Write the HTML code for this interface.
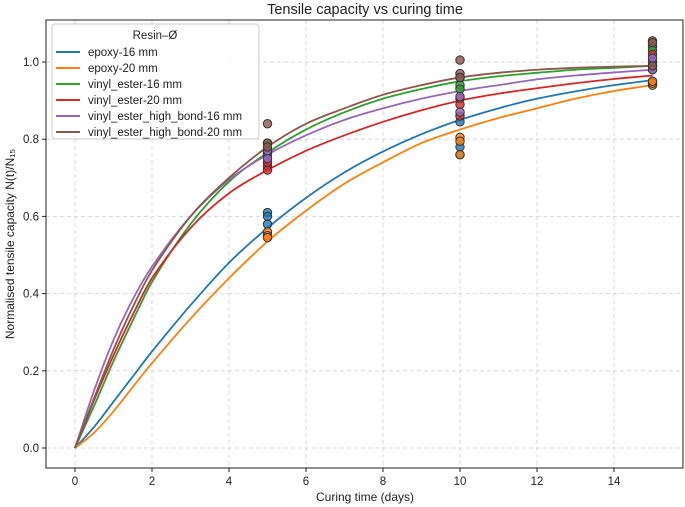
<!DOCTYPE html>
<html><head><meta charset="utf-8">
<style>
html,body{margin:0;padding:0;background:#fff;}
svg{display:block;font-family:"Liberation Sans","DejaVu Sans",sans-serif;}
</style></head>
<body>
<svg id="chart" width="685" height="507" viewBox="0 0 685 507">
<text x="365" y="14" text-anchor="middle" font-size="14.5" fill="#222">Tensile capacity vs curing time</text>
<g id="grid"></g>
<g id="axes"></g>
<g id="series"></g>
<g id="points"></g>
<text x="365" y="501" text-anchor="middle" font-size="12" fill="#222">Curing time (days)</text>
<text transform="translate(14,244) rotate(-90)" text-anchor="middle" font-size="12" fill="#222">Normalised tensile capacity N(t)/N₁₅</text>
<g id="legend"></g>
</svg>
<script>
const xTicks=[0,2,4,6,8,10,12,14];
const yTicks=[0.0,0.2,0.4,0.6,0.8,1.0];
const yTickLabels=["0.0","0.2","0.4","0.6","0.8","1.0"];
const seriesNames=["epoxy-16 mm","epoxy-20 mm","vinyl_ester-16 mm","vinyl_ester-20 mm","vinyl_ester_high_bond-16 mm","vinyl_ester_high_bond-20 mm"];
const curveDays=[0,0.5,1,1.5,2,3,4,5,6,7,8,9,10,11,12,13,14,15];
const epoxy16=[0,0.055,0.12,0.185,0.25,0.37,0.48,0.57,0.648,0.714,0.768,0.813,0.85,0.88,0.905,0.924,0.94,0.953];
const epoxy20=[0,0.04,0.095,0.158,0.22,0.335,0.44,0.535,0.615,0.685,0.74,0.79,0.825,0.855,0.88,0.905,0.925,0.94];
const ve16=[0,0.11,0.225,0.33,0.43,0.58,0.69,0.765,0.825,0.87,0.905,0.93,0.95,0.963,0.972,0.98,0.985,0.99];
const ve20=[0,0.125,0.24,0.345,0.44,0.57,0.66,0.72,0.77,0.81,0.845,0.875,0.9,0.918,0.932,0.945,0.956,0.965];
const vehb16=[0,0.15,0.28,0.385,0.47,0.6,0.695,0.76,0.81,0.85,0.88,0.905,0.925,0.94,0.955,0.965,0.973,0.98];
const vehb20=[0,0.13,0.255,0.365,0.46,0.6,0.7,0.78,0.84,0.88,0.915,0.94,0.96,0.972,0.98,0.985,0.988,0.99];
const pointDays=[5,10,15];
const pts_epoxy16=[[0.61,0.60,0.58],[0.845,0.78,0.76],[0.98,0.95,0.945]];
const pts_epoxy20=[[0.56,0.55,0.545],[0.805,0.795,0.76],[0.94,0.945,0.95]];
const pts_ve16=[[0.79,0.77,0.765],[0.94,0.93,0.96],[1.04,1.03,0.99]];
const pts_ve20=[[0.73,0.72,0.74],[0.905,0.89,0.86],[1.02,1.0,0.99]];
const pts_vehb16=[[0.76,0.75,0.77],[0.96,0.91,0.87],[1.0,1.01,0.98]];
const pts_vehb20=[[0.84,0.79,0.78],[1.005,0.97,0.96],[1.055,1.05,0.99]];
const colors=["#1f77b4","#ff7f0e","#2ca02c","#d62728","#9467bd","#8c564b"];

const X0=46,X1=683,Y0=20,Y1=468;
const xS=v=>75+v*38.5;
const yS=v=>448-v*386;
const NS="http://www.w3.org/2000/svg";
function mk(tag,attrs,parent){const e=document.createElementNS(NS,tag);for(const k in attrs)e.setAttribute(k,attrs[k]);parent.appendChild(e);return e;}
const grid=document.getElementById('grid'),axes=document.getElementById('axes');
xTicks.forEach(t=>{
 const l=mk('line',{x1:xS(t),x2:xS(t),y1:Y0,y2:Y1,stroke:'#d0d0d0','stroke-dasharray':'4,3','stroke-width':0.8},grid);
 
 
 const tk=mk('line',{x1:xS(t),x2:xS(t),y1:Y1,y2:Y1+4,stroke:'#222'},axes);
 
 
 const tx=mk('text',{x:xS(t),y:Y1+17,'text-anchor':'middle','font-size':11.5,fill:'#222'},axes);
 tx.textContent=t;
 
 
});
yTicks.forEach((t,i)=>{
 const l=mk('line',{x1:X0,x2:X1,y1:yS(t),y2:yS(t),stroke:'#d0d0d0','stroke-dasharray':'4,3','stroke-width':0.8},grid);
 
 
 const tk=mk('line',{x1:X0-4,x2:X0,y1:yS(t),y2:yS(t),stroke:'#222'},axes);
 
 
 const tx=mk('text',{x:X0-7,y:yS(t)+4,'text-anchor':'end','font-size':11.5,fill:'#222'},axes);
 tx.textContent=yTickLabels[i];
 
 
});
const frame=mk('rect',{x:X0,y:Y0,width:X1-X0,height:Y1-Y0,fill:'none',stroke:'#222','stroke-width':1},axes);



function smooth(xs,ys){
 const p=xs.map((x,i)=>[xS(x),yS(ys[i])]);
 let d='M'+p[0][0]+','+p[0][1];
 for(let i=0;i<p.length-1;i++){
  const a=p[Math.max(0,i-1)],b=p[i],c=p[i+1],e=p[Math.min(p.length-1,i+2)];
  const h=c[0]-b[0];
  const m1=(c[1]-a[1])/(c[0]-a[0]||1),m2=(e[1]-b[1])/(e[0]-b[0]||1);
  d+=' C'+(b[0]+h/3)+','+(b[1]+m1*h/3)+' '+(c[0]-h/3)+','+(c[1]-m2*h/3)+' '+c[0]+','+c[1];
 }
 return d;
}
const curves=[epoxy16,epoxy20,ve16,ve20,vehb16,vehb20];
const ptsets=[pts_epoxy16,pts_epoxy20,pts_ve16,pts_ve20,pts_vehb16,pts_vehb20];
const sg=document.getElementById('series'),pg=document.getElementById('points');
ptsets.forEach((set,si)=>{
 set.forEach((vals,di)=>{
  vals.forEach(v=>{
   const c=mk('circle',{cx:xS(pointDays[di]),cy:yS(v),r:4.2,fill:colors[si],'fill-opacity':0.8,stroke:'#333','stroke-width':1},pg);
   
   
  });
 });
});
curves.forEach((ys,si)=>{
 const p=mk('path',{d:smooth(curveDays,ys),fill:'none',stroke:colors[si],'stroke-width':1.8},sg);
 
 
});
const lg=document.getElementById('legend');
const box=mk('rect',{x:52,y:24,width:207,height:115,rx:3,fill:'#fff','fill-opacity':0.85,stroke:'#ccc'},lg);


const lt=mk('text',{x:155,y:39,'text-anchor':'middle','font-size':11.5,fill:'#222'},lg);
lt.textContent='Resin–Ø';


seriesNames.forEach((n,i)=>{
 const y=52+i*16;
 const l=mk('line',{x1:56,x2:80,y1:y,y2:y,stroke:colors[i],'stroke-width':2},lg);
 
 
 const t=mk('text',{x:88,y:y+4,'font-size':11.5,fill:'#222'},lg);
 t.textContent=n;
 
 
});
</script>
</body></html>
